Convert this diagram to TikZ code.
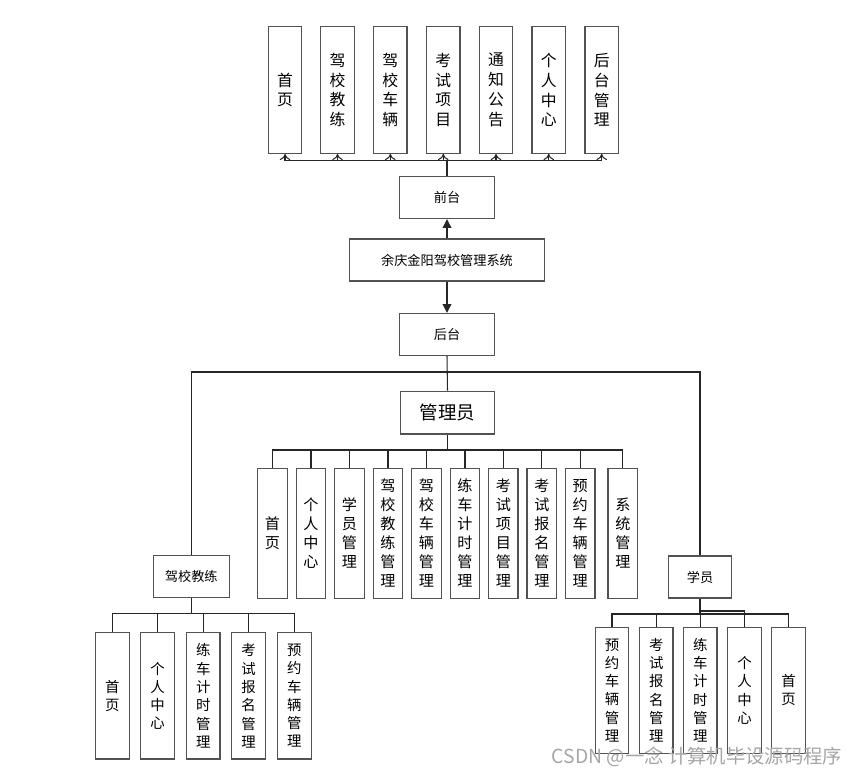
\documentclass[tikz,border=0pt]{standalone}
\usepackage{fontspec}
\setmainfont{Noto Sans CJK SC}
\usetikzlibrary{arrows.meta}

\tikzset{
  box/.style={draw=black!68, line width=0.8pt, inner sep=0pt, align=center},
  tallbox/.style={box, font=\fontsize{9}{11.3}\selectfont, minimum width=0.67cm, minimum height=2.53cm},
  midbox/.style={box, font=\fontsize{8.6}{10.8}\selectfont, minimum width=0.59cm, minimum height=2.6cm},
  lowbox/.style={box, font=\fontsize{8.2}{10.4}\selectfont, minimum width=0.68cm, minimum height=2.53cm},
  wide/.style={box, font=\fontsize{7.5}{9}\selectfont, minimum height=0.84cm},
  link/.style={draw=black!85, line width=0.6pt},
  up/.style={link, -{To[length=3.5pt,width=6pt]}},
  fat/.style={link, -{Triangle[length=5pt,width=5pt]}}
}

\begin{document}
\begin{tikzpicture}[x=0.02cm, y=-0.02cm]
	\useasboundingbox (0,0) rectangle (861,776);

	% front pages
	\node [tallbox] (t1) at (285, 90) {首\\页};
	\node [tallbox] (t2) at (337.5, 90) {驾\\校\\教\\练};
	\node [tallbox] (t3) at (390.3, 90) {驾\\校\\车\\辆};
	\node [tallbox] (t4) at (443.3, 90) {考\\试\\项\\目};
	\node [tallbox] (t5) at (496, 90) {通\\知\\公\\告};
	\node [tallbox] (t6) at (548.7, 90) {个\\人\\中\\心};
	\node [tallbox] (t7) at (601.7, 90) {后\\台\\管\\理};

	\node [wide, minimum width=1.9cm] (qt) at (447, 197.5) {前台};
	\node [wide, minimum width=3.91cm] (sys) at (447, 260) {余庆金阳驾校管理系统};
	\node [wide, minimum width=1.9cm] (ht) at (447, 334.5) {后台};

	\coordinate (fbus) at (447, 160.7);
	\draw [link, line width=1.1pt] (qt.north) -- (fbus);
	\foreach \i in {1,...,7}
		\draw [up] (fbus) -| (t\i.south);

	\draw [fat] (sys.north) -- (qt.south);
	\draw [fat] (sys.south) -- (ht.north);

	% back end
	\node [box, font=\fontsize{10.5}{12}\selectfont, minimum width=1.89cm, minimum height=0.85cm] (gly) at (447.5, 412.6) {管理员};
	\node [wide, minimum width=1.52cm] (jl) at (191.3, 576.3) {驾校教练};
	\node [wide, minimum width=1.25cm] (xy) at (700, 577) {学员};

	\coordinate (hbus) at (447, 372);
	\draw [link] (ht.south) -- (gly.north);
	\draw [link] (hbus) -| (jl.north);
	\draw [link] (hbus) -| (xy.north);

	% admin
	\node [midbox] (a1) at (272.5, 533.3) {首\\页};
	\node [midbox] (a2) at (311, 533.3) {个\\人\\中\\心};
	\node [midbox] (a3) at (349.5, 533.3) {学\\员\\管\\理};
	\node [midbox] (a4) at (388, 533.3) {驾\\校\\教\\练\\管\\理};
	\node [midbox] (a5) at (426.5, 533.3) {驾\\校\\车\\辆\\管\\理};
	\node [midbox] (a6) at (465, 533.3) {练\\车\\计\\时\\管\\理};
	\node [midbox] (a7) at (503.3, 533.3) {考\\试\\项\\目\\管\\理};
	\node [midbox] (a8) at (541.8, 533.3) {考\\试\\报\\名\\管\\理};
	\node [midbox] (a9) at (580.2, 533.3) {预\\约\\车\\辆\\管\\理};
	\node [midbox] (a10) at (622.8, 533.3) {系\\统\\管\\理};

	\coordinate (abus) at (447.5, 450);
	\draw [link] (gly.south) -- (abus);
	\foreach \i in {1,...,10}
		\draw [link] (abus) -| (a\i.north);

	% coach
	\node [lowbox] (c1) at (112.3, 695.9) {首\\页};
	\node [lowbox] (c2) at (157.5, 695.9) {个\\人\\中\\心};
	\node [lowbox] (c3) at (203.2, 695.9) {练\\车\\计\\时\\管\\理};
	\node [lowbox] (c4) at (248.5, 695.9) {考\\试\\报\\名\\管\\理};
	\node [lowbox] (c5) at (294.3, 695.9) {预\\约\\车\\辆\\管\\理};

	\coordinate (cbus) at (191.3, 613.3);
	\draw [link] (jl.south) -- (cbus);
	\foreach \i in {1,...,5}
		\draw [link] (cbus) -| (c\i.north);

	% student
	\node [lowbox, minimum width=0.67cm, minimum height=2.52cm] (s1) at (612, 690.3) {预\\约\\车\\辆\\管\\理};
	\node [lowbox, minimum width=0.67cm, minimum height=2.52cm] (s2) at (656.2, 690.3) {考\\试\\报\\名\\管\\理};
	\node [lowbox, minimum width=0.67cm, minimum height=2.52cm] (s3) at (700.3, 690.3) {练\\车\\计\\时\\管\\理};
	\node [lowbox, minimum width=0.67cm, minimum height=2.52cm] (s4) at (744.5, 690.3) {个\\人\\中\\心};
	\node [lowbox, minimum width=0.67cm, minimum height=2.52cm] (s5) at (788.5, 690.3) {首\\页};

	\coordinate (sbus) at (700, 614);
	\coordinate (sbus2) at (700, 611);
	\draw [link] (xy.south) -- (sbus);
	\foreach \i in {1,2,3,5}
		\draw [link] (sbus) -| (s\i.north);
	\draw [link] (sbus2) -| (s4.north);

	\node [text=black!35, font=\fontsize{11}{13}\selectfont] (wm) at (697, 757) {CSDN @一念 计算机毕设源码程序};
\end{tikzpicture}
\end{document}
